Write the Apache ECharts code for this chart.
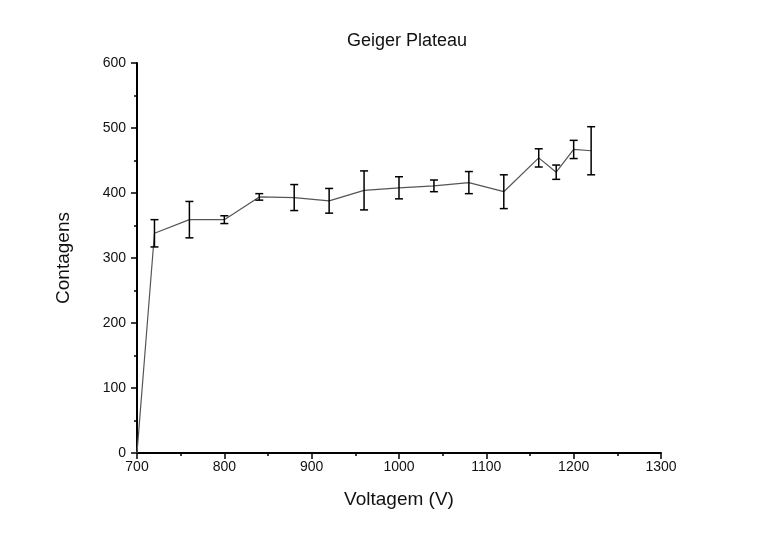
<!DOCTYPE html>
<html>
<head>
<meta charset="UTF-8">
<title>Geiger Plateau</title>
<script type="text/javascript" src="https://cdn.jsdelivr.net/npm/echarts@6/dist/echarts.min.js"></script>
<style>body{margin:0;background:#fff;}</style>
</head>
<body>
<div id="box" style="width:768px;height:543px;"></div>
<script type="text/javascript">
// tensão (V)
var voltagem = [700, 720, 760, 800, 840, 880, 920, 960, 1000, 1040, 1080, 1120, 1160, 1180, 1200, 1220];
// contagens
var contagens = [0, 338, 359, 359, 394, 393, 388, 404, 408, 411, 416, 402, 454, 432, 467, 465];
// erro (+/-)
var erro = [0, 21, 28, 6, 5, 20, 19, 30, 17, 9, 17, 26, 14, 11, 14, 37];

var mychart = echarts.init(document.getElementById('box'));

var linha = [];
var barras = [];
for (var i = 0; i < voltagem.length; i++) {
  linha.push([voltagem[i], contagens[i]]);
  if (erro[i] > 0) barras.push([voltagem[i], contagens[i] - erro[i], contagens[i] + erro[i]]);
}

var fonte = 'Liberation Sans, Arial, sans-serif';

var option = {
  animation: false,
  title: {
    text: 'Geiger Plateau',
    left: 402, top: 27, textAlign: 'center',
    textStyle: {fontFamily: fonte, fontSize: 18, fontWeight: 'normal', color: '#111'}
  },
  grid: {left: 137, right: 107, top: 63, bottom: 90},
  xAxis: {
    type: 'value', min: 700, max: 1300, interval: 100,
    name: 'Voltagem (V)', nameLocation: 'middle', nameGap: 37,
    nameTextStyle: {fontFamily: fonte, fontSize: 19, color: '#111'},
    axisLine: {lineStyle: {color: '#000', width: 2}},
    axisTick: {inside: false, length: 6, lineStyle: {color: '#000', width: 1.5}},
    minorTick: {show: true, splitNumber: 2, length: 3, lineStyle: {color: '#000', width: 1.5}},
    axisLabel: {fontFamily: fonte, fontSize: 14, color: '#111', margin: 7,
      formatter: function (v) { return String(v); }},
    splitLine: {show: false}
  },
  yAxis: {
    type: 'value', min: 0, max: 600, interval: 100,
    name: 'Contagens', nameLocation: 'middle', nameGap: 64, nameRotate: 90,
    nameTextStyle: {fontFamily: fonte, fontSize: 19, color: '#111'},
    axisLine: {show: true, lineStyle: {color: '#000', width: 2}},
    axisTick: {show: true, inside: false, length: 6, lineStyle: {color: '#000', width: 1.5}},
    minorTick: {show: true, splitNumber: 2, length: 3, lineStyle: {color: '#000', width: 1.5}},
    axisLabel: {fontFamily: fonte, fontSize: 14, color: '#111', margin: 11},
    splitLine: {show: false}
  },
  series: [{
    type: 'line',
    data: linha,
    symbol: 'none',
    lineStyle: {color: '#555', width: 1.2},
    z: 2
  }, {
    type: 'custom',
    data: barras,
    renderItem: function (params, api) {
      var x = api.value(0);
      var lo = api.coord([x, api.value(1)]);
      var hi = api.coord([x, api.value(2)]);
      var w = 4;
      var estilo = {stroke: '#000', lineWidth: 1.5};
      return {
        type: 'group',
        children: [
          {type: 'line', shape: {x1: hi[0], y1: hi[1], x2: lo[0], y2: lo[1]}, style: estilo},
          {type: 'line', shape: {x1: hi[0] - w, y1: hi[1], x2: hi[0] + w, y2: hi[1]}, style: estilo},
          {type: 'line', shape: {x1: lo[0] - w, y1: lo[1], x2: lo[0] + w, y2: lo[1]}, style: estilo}
        ]
      };
    },
    z: 3
  }]
};

mychart.setOption(option);
</script>
</body>
</html>
